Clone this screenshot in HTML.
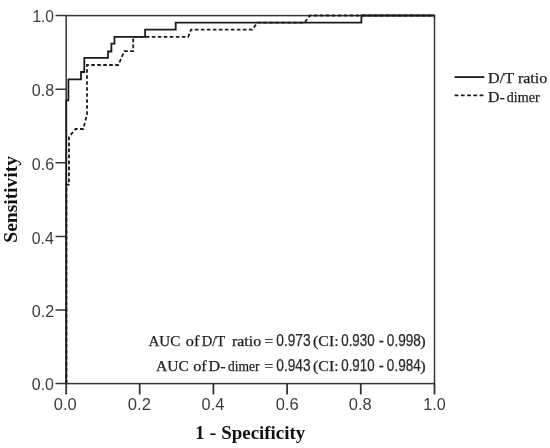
<!DOCTYPE html>
<html><head><meta charset="utf-8"><title>ROC curve</title>
<style>
html,body{margin:0;padding:0;background:#fff;}
body{width:550px;height:448px;overflow:hidden;}
svg{display:block;filter:blur(0.35px);}
.tk{font-family:"Liberation Sans",Arial,sans-serif;fill:#3c3c3c;}
.sf{font-family:"Liberation Serif","Times New Roman",serif;fill:#1e1e1e;stroke:#1e1e1e;stroke-width:0.25;}
.sb{font-family:"Liberation Serif","Times New Roman",serif;font-weight:bold;fill:#111;}
.ss{font-family:"Liberation Sans",Arial,sans-serif;fill:#2a2a2a;stroke:#2a2a2a;stroke-width:0.25;}
</style></head>
<body>
<svg width="550" height="448" viewBox="0 0 550 448">
<rect width="550" height="448" fill="#fff"/>
<g stroke="#363636" stroke-width="1.5" fill="none">
<rect x="66.2" y="15.6" width="368.3" height="368"/>
<path d="M55.5 15.6H66.2M55.5 89.2H66.2M55.5 162.8H66.2M55.5 236.4H66.2M55.5 310H66.2M55.5 383.6H66.2"/>
<path stroke-width="1.8" d="M66.2 383.6V394.4M139.7 383.6V394.4M213.4 383.6V394.4M287.1 383.6V394.4M360.8 383.6V394.4M434.5 383.6V394.4"/>
</g>
<path d="M66.4 383.6V184.7H69V137L75.5 129H83.3L87 114.3V65H118.3L124.3 51.2H133.2V36.8H188.2L191 29.6H252.4L257.3 22.6H304.5L310 15.5H434.5" fill="none" stroke="#1a1a1a" stroke-width="1.8" stroke-dasharray="3.6 2.4"/>
<path d="M66.3 383.6V100.3H68.4V79.4H81V72H84.3V57.8H108V51.5H111.4V43.7H114.5V36.8H145.1V29.6H175.7V22.6H361.4V15.5H434.5" fill="none" stroke="#1a1a1a" stroke-width="1.8"/>

<text class="tk" x="32.42" y="21.8" font-size="16" textLength="21.57" lengthAdjust="spacingAndGlyphs">1.0</text>
<text class="tk" x="31.77" y="96.0" font-size="16" textLength="22.32" lengthAdjust="spacingAndGlyphs">0.8</text>
<text class="tk" x="31.77" y="169.9" font-size="16" textLength="22.32" lengthAdjust="spacingAndGlyphs">0.6</text>
<text class="tk" x="31.78" y="243.5" font-size="16" textLength="22.08" lengthAdjust="spacingAndGlyphs">0.4</text>
<text class="tk" x="31.77" y="316.7" font-size="16" textLength="22.44" lengthAdjust="spacingAndGlyphs">0.2</text>
<text class="tk" x="31.78" y="389.6" font-size="16" textLength="22.23" lengthAdjust="spacingAndGlyphs">0.0</text>
<text class="tk" x="53.86" y="409.6" font-size="16" textLength="22.87" lengthAdjust="spacingAndGlyphs">0.0</text>
<text class="tk" x="127.85" y="409.6" font-size="16" textLength="23.08" lengthAdjust="spacingAndGlyphs">0.2</text>
<text class="tk" x="201.56" y="409.6" font-size="16" textLength="22.71" lengthAdjust="spacingAndGlyphs">0.4</text>
<text class="tk" x="275.66" y="409.6" font-size="16" textLength="22.96" lengthAdjust="spacingAndGlyphs">0.6</text>
<text class="tk" x="348.76" y="409.6" font-size="16" textLength="22.96" lengthAdjust="spacingAndGlyphs">0.8</text>
<text class="tk" x="423.27" y="409.6" font-size="16" textLength="22.44" lengthAdjust="spacingAndGlyphs">1.0</text>
<text><tspan class="sb" x="195.23" y="438.8" font-size="18.7" textLength="9.21" lengthAdjust="spacingAndGlyphs">1</tspan> <tspan class="sb" x="209.46" y="438.8" font-size="18.7" textLength="6.89" lengthAdjust="spacingAndGlyphs">-</tspan> <tspan class="sb" x="221.30" y="438.8" font-size="18.7" textLength="83.88" lengthAdjust="spacingAndGlyphs">Specificity</tspan></text>
<text class="sb" transform="translate(17.3 242.63) rotate(-90)" font-size="18.7" textLength="86.50" lengthAdjust="spacingAndGlyphs">Sensitivity</text>
<path d="M454.6 77.1H484.4" stroke="#1a1a1a" stroke-width="1.8"/>
<path d="M454.6 95.3H484" stroke="#1a1a1a" stroke-width="1.8" stroke-dasharray="3.8 2.45"/>
<text><tspan class="sf" x="488.05" y="82.5" font-size="14.6" textLength="25.91" lengthAdjust="spacingAndGlyphs">D/T</tspan> <tspan class="sf" x="517.98" y="82.5" font-size="14.6" textLength="29.22" lengthAdjust="spacingAndGlyphs">ratio</tspan></text>
<text><tspan class="sf" x="488.06" y="101.8" font-size="14.6" textLength="16.72" lengthAdjust="spacingAndGlyphs">D-</tspan><tspan class="sf" x="506.79" y="101.8" font-size="14.6" textLength="32.81" lengthAdjust="spacingAndGlyphs">dimer</tspan></text>
<text><tspan class="sf" x="148.46" y="345.6" font-size="14.6" textLength="31.87" lengthAdjust="spacingAndGlyphs">AUC</tspan> <tspan class="sf" x="185.88" y="345.6" font-size="14.6" textLength="13.60" lengthAdjust="spacingAndGlyphs">of</tspan> <tspan class="sf" x="201.79" y="345.6" font-size="14.6" textLength="23.44" lengthAdjust="spacingAndGlyphs">D/T</tspan> <tspan class="sf" x="232.08" y="345.6" font-size="14.6" textLength="29.01" lengthAdjust="spacingAndGlyphs">ratio</tspan> <tspan class="sf" x="264.64" y="345.6" font-size="14.6" textLength="8.70" lengthAdjust="spacingAndGlyphs">=</tspan> <tspan class="ss" x="276.26" y="346.0" font-size="15.6" textLength="34.33" lengthAdjust="spacingAndGlyphs">0.973</tspan> <tspan class="sf" x="313.12" y="345.6" font-size="14.6" textLength="25.46" lengthAdjust="spacingAndGlyphs">(CI:</tspan> <tspan class="ss" x="341.28" y="346.0" font-size="15.6" textLength="33.33" lengthAdjust="spacingAndGlyphs">0.930</tspan> <tspan class="ss" x="378.72" y="346.0" font-size="15.6" textLength="5.17" lengthAdjust="spacingAndGlyphs">-</tspan> <tspan class="ss" x="386.87" y="346.0" font-size="15.6" textLength="34.02" lengthAdjust="spacingAndGlyphs">0.998</tspan><tspan class="sf" x="420.28" y="345.6" font-size="14.6" textLength="5.42" lengthAdjust="spacingAndGlyphs">)</tspan></text>
<text><tspan class="sf" x="156.06" y="370.9" font-size="14.6" textLength="32.80" lengthAdjust="spacingAndGlyphs">AUC</tspan> <tspan class="sf" x="193.18" y="370.9" font-size="14.6" textLength="13.60" lengthAdjust="spacingAndGlyphs">of</tspan> <tspan class="sf" x="208.55" y="370.9" font-size="14.6" textLength="17.04" lengthAdjust="spacingAndGlyphs">D-</tspan><tspan class="sf" x="228.11" y="370.9" font-size="14.6" textLength="31.49" lengthAdjust="spacingAndGlyphs">dimer</tspan> <tspan class="sf" x="264.64" y="370.9" font-size="14.6" textLength="8.70" lengthAdjust="spacingAndGlyphs">=</tspan> <tspan class="ss" x="276.26" y="371.3" font-size="15.6" textLength="34.33" lengthAdjust="spacingAndGlyphs">0.943</tspan> <tspan class="sf" x="313.12" y="370.9" font-size="14.6" textLength="25.46" lengthAdjust="spacingAndGlyphs">(CI:</tspan> <tspan class="ss" x="341.28" y="371.3" font-size="15.6" textLength="33.33" lengthAdjust="spacingAndGlyphs">0.910</tspan> <tspan class="ss" x="378.72" y="371.3" font-size="15.6" textLength="5.17" lengthAdjust="spacingAndGlyphs">-</tspan> <tspan class="ss" x="386.87" y="371.3" font-size="15.6" textLength="33.83" lengthAdjust="spacingAndGlyphs">0.984</tspan><tspan class="sf" x="420.28" y="370.9" font-size="14.6" textLength="5.42" lengthAdjust="spacingAndGlyphs">)</tspan></text>
</svg>
</body></html>
